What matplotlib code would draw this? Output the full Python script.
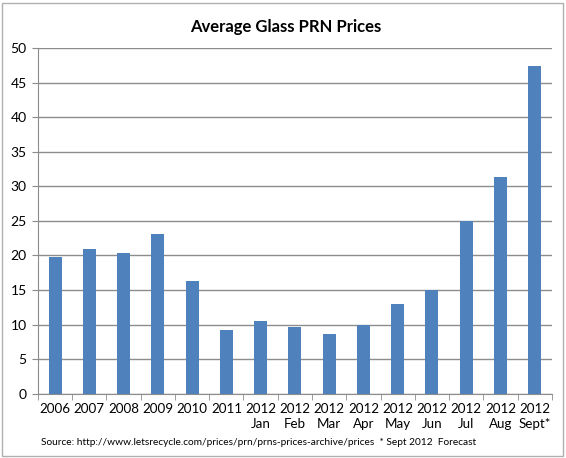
import matplotlib
matplotlib.use('Agg')
import matplotlib.pyplot as plt
import matplotlib.patches as mpatches
import numpy as np

plt.rcParams['font.family'] = ['Lato', 'DejaVu Sans']

# data
years = ['2006', '2007', '2008', '2009', '2010', '2011',
         '2012\nJan', '2012\nFeb', '2012\nMar', '2012\nApr', '2012\nMay',
         '2012\nJun', '2012\nJul', '2012\nAug', '2012\nSept*']
prices = [19.8, 21.0, 20.3, 23.1, 16.3, 9.2, 10.5, 9.6, 8.7, 10.0, 13.0, 15.0, 25.0, 31.4, 47.5]
y_ticks = [0, 5, 10, 15, 20, 25, 30, 35, 40, 45, 50]

fig = plt.figure(figsize=(5.66, 4.58), dpi=100)
ax = fig.add_axes([0.067, 0.1406, 0.908, 0.754])

x = np.arange(len(years))
ax.bar(x, prices, width=0.38, color='#4F81BD', zorder=3)

ax.set_xlim(-0.5, len(years) - 0.5)
ax.set_ylim(0, 50)
ax.set_yticks(y_ticks)
ax.yaxis.grid(True, color='#8c8c8c', linewidth=1.0, zorder=0)

# labels at category centres, tick marks between categories
ax.set_xticks(x)
ax.set_xticklabels(years, fontsize=9.6, linespacing=1.3)
ax.tick_params(axis='x', length=0, pad=7)
ax.set_xticks(np.arange(-0.5, len(years)), minor=True)
ax.tick_params(axis='x', which='minor', length=4, color='#8c8c8c')
ax.tick_params(axis='y', labelsize=10, length=4, color='#8c8c8c', pad=4)

for side in ['top', 'right']:
    ax.spines[side].set_visible(False)
ax.spines['left'].set_color('#8c8c8c')
ax.spines['bottom'].set_color('#8c8c8c')

fig.text(0.505, 0.94, 'Average Glass PRN Prices', ha='center', va='center',
         fontsize=12, fontweight='bold')
fig.text(0.073, 0.033, 'Source: http://www.letsrecycle.com/prices/prn/prns-prices-archive/prices  * Sept 2012  Forecast',
         ha='left', va='center', fontsize=7.3)

# light border around the whole chart
fig.patches.append(mpatches.Rectangle((0.003, 0.004), 0.992, 0.99, transform=fig.transFigure,
                                      fill=False, edgecolor='#b0b0b0', linewidth=1.0))

fig.savefig('out.png', dpi=100)
